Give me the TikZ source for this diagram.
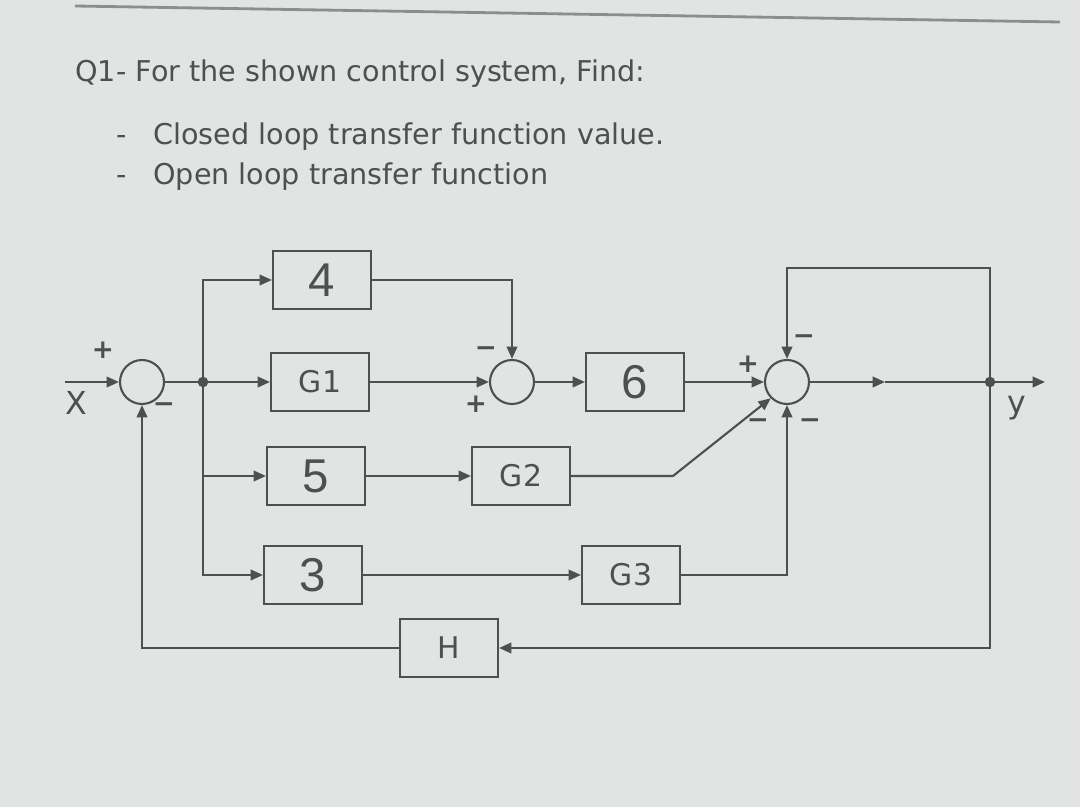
\documentclass[tikz,border=0pt]{standalone}
\usepackage{fontspec}
\setmainfont{DejaVu Sans}
\newfontfamily\numfont{Liberation Sans}
\usetikzlibrary{arrows.meta}
\definecolor{paper}{HTML}{E2E4E4}
\definecolor{ink}{HTML}{4E5050}
\newcommand{\minussign}{\char"2212}
\tikzset{
  blk/.style={draw=ink, line width=1.2pt, minimum width=1.96cm, minimum height=1.16cm,
    inner sep=0pt, text=ink, font=\fontsize{17}{17}\selectfont},
  numblk/.style={blk, font=\numfont\fontsize{27}{27}\selectfont},
  summ/.style={draw=ink, line width=1.2pt, circle, minimum size=0.88cm, inner sep=0pt},
  wire/.style={draw=ink, line width=1.2pt},
  sig/.style={wire, -{Triangle[length=7pt,width=6pt]}},
  sgn/.style={text=ink, inner sep=0pt, font=\bfseries\fontsize{15}{15}\selectfont},
  jdot/.style={circle, fill=ink, inner sep=0pt, minimum size=6pt},
  qtext/.style={anchor=base west, text=ink, inner sep=0pt, font=\fontsize{16.3}{19}\selectfont},
}
\begin{document}
\begin{tikzpicture}[x=0.02cm, y=-0.02cm]
  \fill[paper] (0,0) rectangle (1080,807);
  \useasboundingbox (0,0) rectangle (1080,807);
  \draw[ink!65, line width=1.6pt] (75,6) -- (1060,22);

  % question text
  \node[qtext] (qline) at (75,82) {Q1- For the shown control system, Find:};
  \node[qtext] (dasha) at (116,145) {-};
  \node[qtext] (itema) at (153,145) {Closed loop transfer function value.};
  \node[qtext] (dashb) at (116,185) {-};
  \node[qtext] (itemb) at (153,185) {Open loop transfer function};

  % blocks and summing points
  \node[summ] (sumA) at (142,382) {};
  \node[numblk] (kfour) at (322,280) {4};
  \node[blk] (gone) at (320,382) {G1};
  \node[numblk] (kfive) at (316,476) {5};
  \node[numblk] (kthree) at (313,575) {3};
  \node[summ] (sumB) at (512,382) {};
  \node[blk] (gtwo) at (521,476) {G2};
  \node[numblk] (ksix) at (635,382) {6};
  \node[blk] (gthree) at (631,575) {G3};
  \node[summ] (sumC) at (787,382) {};
  \node[blk] (hblk) at (449,648) {H};

  \coordinate (xin) at (65,382);
  \coordinate (split) at (203,382);
  \coordinate (kink) at (673,476);
  \coordinate (midarr) at (885,382);
  \coordinate (yout) at (1045,382);
  \coordinate (tap) at (990,382);
  \coordinate (topr) at (990,268);
  \coordinate (botr) at (990,648);

  % signals
  \draw[sig] (xin) -- (sumA);
  \draw[wire] (sumA) -- (split);
  \draw[sig] (split) -- (gone);
  \draw[sig] (split) |- (kfour);
  \draw[sig] (split) |- (kfive);
  \draw[sig] (split) |- (kthree);
  \draw[sig] (kfour) -| (sumB);
  \draw[sig] (gone) -- (sumB);
  \draw[sig] (sumB) -- (ksix);
  \draw[sig] (ksix) -- (sumC);
  \draw[sig] (kfive) -- (gtwo);
  \draw[sig] (gtwo) -- (kink) -- (sumC.south west);
  \draw[sig] (kthree) -- (gthree);
  \draw[sig] (gthree) -| (sumC);
  \draw[sig] (sumC) -- (midarr);
  \draw[sig] (midarr) -- (yout);
  \draw[sig] (tap) -- (topr) -| (sumC);
  \draw[sig] (tap) -- (botr) -- (hblk);
  \draw[sig] (hblk) -| (sumA);
  \node[jdot] (dotA) at (split) {};
  \node[jdot] (dotB) at (tap) {};

  % signs
  \node[sgn] (pa) at (103,350) {+};
  \node[sgn] (ma) at (164,408) {\minussign};
  \node[sgn] (mb) at (486,352) {\minussign};
  \node[sgn] (pb) at (476,404) {+};
  \node[sgn] (pc) at (748,364) {+};
  \node[sgn] (mc) at (804,340) {\minussign};
  \node[sgn] (md) at (758,424) {\minussign};
  \node[sgn] (me) at (810,424) {\minussign};

  % signal names
  \node[text=ink, font=\fontsize{18}{18}\selectfont] (xlab) at (76,403) {X};
  \node[text=ink, font=\fontsize{18}{18}\selectfont] (ylab) at (1017,408) {y};
\end{tikzpicture}
\end{document}
